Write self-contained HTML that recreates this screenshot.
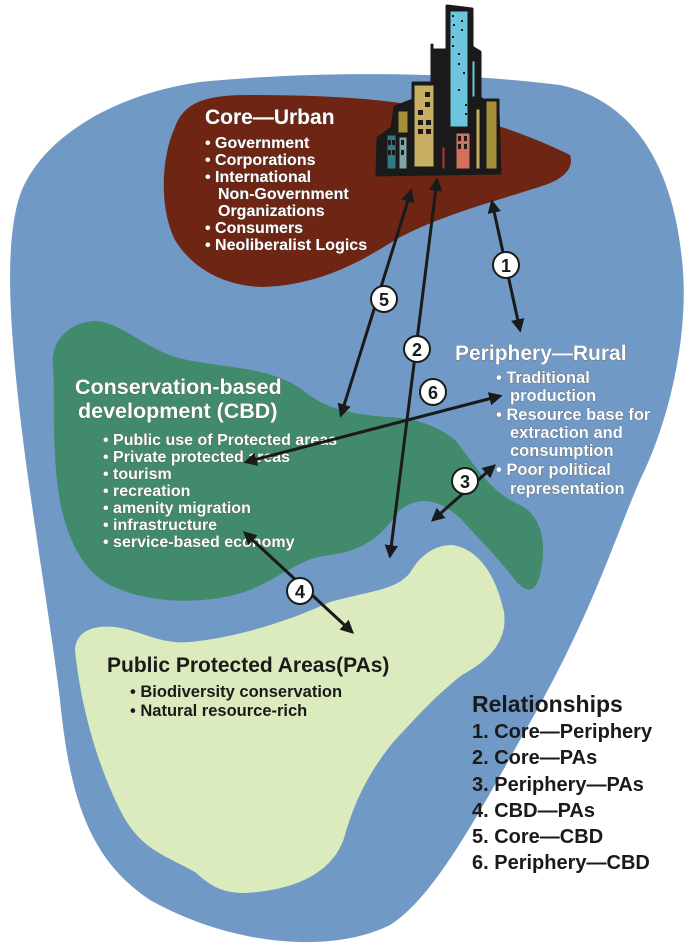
<!DOCTYPE html>
<html><head><meta charset="utf-8"><style>
html,body{margin:0;padding:0;background:#fff;}
svg{display:block;}
text{font-family:"Liberation Sans",sans-serif;}
.w{fill:#fff;font-weight:bold;stroke:#555;stroke-width:0.6;paint-order:stroke;}
.d{fill:#1a1a1a;font-weight:bold;}
</style></head><body>
<svg width="685" height="948" viewBox="0 0 685 948" xmlns="http://www.w3.org/2000/svg">
<defs>
<marker id="ah" viewBox="0 0 10 10" refX="8" refY="5" markerWidth="4.5" markerHeight="4.5" orient="auto-start-reverse">
<path d="M0,0 L10,5 L0,10 z" fill="#1a1a1a"/></marker>
</defs>
<path d="M20,195 C40,140 110,95 200,82 C300,72 440,70 560,85 C630,100 672,160 682,260 C690,330 670,420 640,480 C610,550 590,620 520,740 C470,830 430,900 390,925 C330,955 230,945 150,900 C90,860 70,800 60,700 C45,580 20,450 12,330 C8,270 10,225 20,195 Z" fill="#7199c6"/>
<path d="M175,127 C185,100 210,95 250,95 C320,95 380,98 430,108 C480,118 530,135 570,155 C575,170 560,180 545,185 C500,200 440,215 395,240 C360,262 320,285 263,287 C220,286 190,265 175,240 C160,210 160,160 175,127 Z" fill="#6e2514"/>
<path d="M53,367 C50,340 70,322 95,321 C120,322 140,345 175,357 C215,368 265,365 300,388 C320,405 340,413 386,417 C420,418 440,428 455,440 C475,465 490,492 520,505 C540,515 548,540 540,575 C535,595 525,592 515,580 C500,560 480,540 460,518 C440,500 420,495 400,510 C385,530 370,550 330,555 C300,558 285,575 250,590 C210,605 150,605 110,585 C80,570 62,530 57,480 C52,430 55,400 53,367 Z" fill="#418b6c"/>
<path d="M75,650 C76,630 95,625 115,627 C140,630 160,645 190,642 C230,638 280,625 330,602 C375,590 395,590 410,573 C420,555 435,545 452,545 C475,548 495,570 504,612 C508,640 490,660 462,675 C430,700 410,725 395,740 C370,770 355,800 345,835 C335,870 300,890 245,893 C220,893 210,885 195,872 C165,855 140,850 120,810 C95,760 80,700 75,650 Z" fill="#dcebbd"/>
<g stroke="#1a1a1a" stroke-width="3" stroke-linejoin="round">
<path d="M432,45 L432,50 L447,50 L447,6 L472,9 L472,47 L480,52 L480,98 L498,110 L500,173 L377,175 L378,138 L392,128 L395,107 L413,100 L413,83 L432,83 Z" fill="#1a1a1a"/>
<rect x="449" y="10" width="20" height="118" fill="#6cc5dc"/>
<rect x="413" y="84" width="22" height="84" fill="#c7ae63"/>
<rect x="397" y="110" width="12" height="24" fill="#a58f3a"/>
<rect x="386" y="134" width="11" height="36" fill="#2f7a85"/>
<rect x="398" y="136" width="10" height="34" fill="#7fa4a6"/>
<rect x="455" y="132" width="16" height="38" fill="#d4705b"/>
<rect x="441" y="146" width="5" height="24" fill="#b5372a"/>
<rect x="475" y="108" width="6" height="62" fill="#c7ae63"/>
<rect x="485" y="100" width="13" height="70" fill="#a58f3a"/>
<rect x="471" y="60" width="5" height="38" fill="#6cc5dc"/>
</g>
<g fill="#1a1a1a">
<rect x="452" y="15" width="2" height="2"/><rect x="461" y="20" width="2" height="2"/><rect x="453" y="24" width="2" height="2"/><rect x="461" y="29" width="2" height="2"/><rect x="452" y="36" width="2" height="2"/><rect x="452" y="45" width="2" height="2"/><rect x="458" y="53" width="2" height="2"/><rect x="458" y="63" width="2" height="2"/><rect x="463" y="72" width="2" height="2"/><rect x="458" y="89" width="2" height="2"/><rect x="465" y="104" width="2" height="2"/><rect x="465" y="113" width="2" height="2"/>
<rect x="425" y="92" width="5" height="5"/><rect x="425" y="102" width="5" height="5"/><rect x="418" y="110" width="5" height="5"/><rect x="418" y="120" width="5" height="5"/><rect x="426" y="120" width="5" height="5"/><rect x="418" y="129" width="5" height="5"/><rect x="426" y="129" width="5" height="5"/>
<rect x="458" y="136" width="3" height="5"/><rect x="464" y="136" width="3" height="5"/><rect x="458" y="144" width="3" height="5"/><rect x="464" y="144" width="3" height="5"/>
<rect x="388" y="140" width="3" height="5"/><rect x="392" y="140" width="3" height="5"/><rect x="388" y="150" width="3" height="5"/><rect x="392" y="150" width="3" height="5"/><rect x="401" y="140" width="3" height="5"/><rect x="401" y="150" width="3" height="5"/>
</g>
<text class="w" x="205" y="124" font-size="21">Core—Urban</text>
<g class="w" font-size="16">
<text x="205" y="148">• Government</text>
<text x="205" y="165">• Corporations</text>
<text x="205" y="182">• International</text>
<text x="218" y="199">Non-Government</text>
<text x="218" y="216">Organizations</text>
<text x="205" y="233">• Consumers</text>
<text x="205" y="250">• Neoliberalist Logics</text>
</g>
<text class="w" x="455" y="360" font-size="21" font-weight="normal">Periphery—Rural</text>
<g class="w" font-size="16.5" font-weight="normal">
<text x="496" y="383">• Traditional</text>
<text x="510" y="401">production</text>
<text x="496" y="420">• Resource base for</text>
<text x="510" y="438">extraction and</text>
<text x="510" y="456">consumption</text>
<text x="496" y="475">• Poor political</text>
<text x="510" y="494">representation</text>
</g>
<text class="w" x="75" y="394" font-size="21.5" font-weight="normal">Conservation-based</text>
<text class="w" x="78" y="418" font-size="21.5" font-weight="normal">development (CBD)</text>
<g class="w" font-size="16" font-weight="normal">
<text x="103" y="445">• Public use of Protected areas</text>
<text x="103" y="462">• Private protected areas</text>
<text x="103" y="479">• tourism</text>
<text x="103" y="496">• recreation</text>
<text x="103" y="513">• amenity migration</text>
<text x="103" y="530">• infrastructure</text>
<text x="103" y="547">• service-based economy</text>
</g>
<text class="d" x="107" y="672" font-size="21">Public Protected Areas(PAs)</text>
<text class="d" x="130" y="697" font-size="16.5" font-weight="normal">• Biodiversity conservation</text>
<text class="d" x="130" y="716" font-size="16.5" font-weight="normal">• Natural resource-rich</text>
<text class="d" x="472" y="712" font-size="23">Relationships</text>
<g class="d" font-size="20">
<text x="472" y="738">1. Core—Periphery</text>
<text x="472" y="764">2. Core—PAs</text>
<text x="472" y="791">3. Periphery—PAs</text>
<text x="472" y="817">4. CBD—PAs</text>
<text x="472" y="843">5. Core—CBD</text>
<text x="472" y="869">6. Periphery—CBD</text>
</g>
<g stroke="#1a1a1a" stroke-width="3" fill="none" marker-start="url(#ah)" marker-end="url(#ah)">
<line x1="492" y1="202" x2="520" y2="330"/>
<line x1="437" y1="180" x2="390" y2="556"/>
<line x1="411" y1="191" x2="341" y2="415"/>
<line x1="500" y1="396" x2="246" y2="462"/>
<line x1="494" y1="466" x2="433" y2="520"/>
<line x1="245" y1="533" x2="352" y2="632"/>
</g>
<g fill="#fff" stroke="#1a1a1a" stroke-width="2">
<circle cx="506" cy="265" r="13"/><circle cx="417" cy="349" r="13"/><circle cx="384" cy="299" r="13"/>
<circle cx="433" cy="392" r="13"/><circle cx="465" cy="481" r="13"/><circle cx="300" cy="591" r="13"/>
</g>
<g font-size="18" font-weight="bold" fill="#1a1a1a" text-anchor="middle">
<text x="506" y="272">1</text><text x="417" y="356">2</text><text x="384" y="306">5</text>
<text x="433" y="399">6</text><text x="465" y="488">3</text><text x="300" y="598">4</text>
</g>
</svg>
</body></html>
